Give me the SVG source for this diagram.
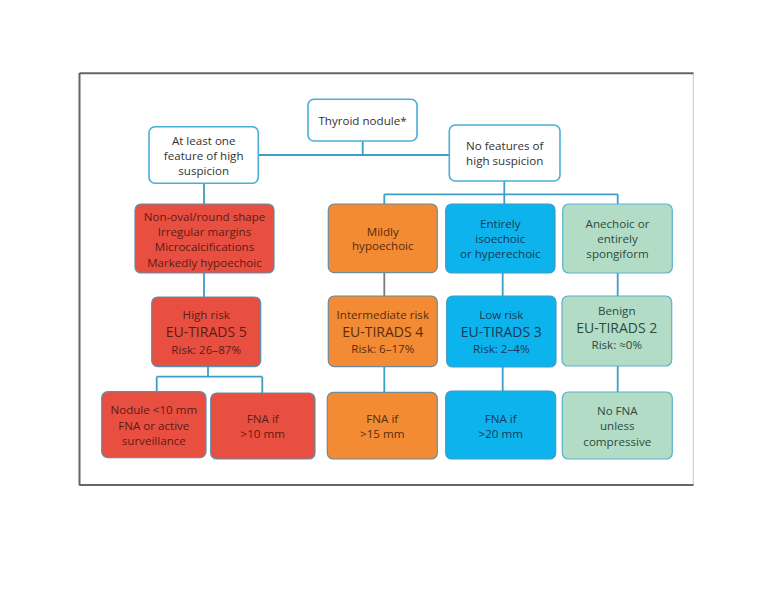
<svg xmlns="http://www.w3.org/2000/svg" width="768" height="594" viewBox="0 0 768 594">
<defs>
<style>
text{font-family:"Open Sans","Noto Sans","Liberation Sans",sans-serif;font-size:11.6px;text-anchor:middle;dominant-baseline:central}
.big{font-size:14px}
.hdr{fill:#fff;stroke:#4aaed6;stroke-width:1.6}
.red{fill:#e94f40;stroke:#5b8fae;stroke-width:1.2}
.org{fill:#f28b33;stroke:#6c8a98;stroke-width:1.2}
.blu{fill:#0db3ec;stroke:#3d9cc6;stroke-width:1.2}
.grn{fill:#b2dcc6;stroke:#5ab1cf;stroke-width:1.2}
.th{fill:#333}
.tr{fill:#5c1c14}
.to{fill:#5a2c0c}
.tb{fill:#173a5a}
.tg{fill:#2e4a3f}
.con{stroke:#3c9ec9;stroke-width:1.8;fill:none}
</style>
</defs>
<rect width="768" height="594" fill="#fff"/>
<g id="frame" fill="none">
<line x1="693.3" y1="73" x2="693.3" y2="485" stroke="#c8c8c8" stroke-width="1"/>
<line x1="79.5" y1="73.3" x2="693.5" y2="73.3" stroke="#666" stroke-width="2"/>
<line x1="79.5" y1="73" x2="79.5" y2="485.5" stroke="#666" stroke-width="2"/>
<line x1="79.5" y1="485" x2="693.5" y2="485" stroke="#666" stroke-width="2"/>
</g>
<g id="connectors">
<path class="con" d="M362.7 141V155M258.3 155H449.3"/>
<path class="con" d="M204 183.3V204M204 273V297"/>
<path class="con" d="M208 366.7V376.7M156.7 376.7H262.3M156.7 376.7V392M262.3 376.7V393"/>
<path class="con" d="M504.3 181V204M384.3 194.3H617.7M384.3 194.3V204M617.7 194.3V204"/>
<path d="M384.3 273V296" stroke="#7a7a7a" stroke-width="1.8"/>
<path class="con" d="M502.7 273V296M617.7 273V296"/>
<path class="con" d="M384.3 366.7V392.3M502.7 367V391M617.7 366V392"/>
</g>
<g id="n-thyroid">
<rect class="hdr" x="308" y="99.3" width="109" height="41.7" rx="6"/>
<text class="th" x="362.5" y="120">Thyroid nodule*</text>
</g>
<g id="n-high">
<rect class="hdr" x="149" y="126.7" width="109.3" height="56.6" rx="6"/>
<text class="th" x="203.7" y="140">At least one</text>
<text class="th" x="203.7" y="155">feature of high</text>
<text class="th" x="203.7" y="170">suspicion</text>
</g>
<g id="n-nohigh">
<rect class="hdr" x="449.3" y="125" width="110.7" height="56" rx="6"/>
<text class="th" x="504.7" y="145">No features of</text>
<text class="th" x="504.7" y="160">high suspicion</text>
</g>
<g id="n-features">
<rect class="red" x="135" y="204" width="139" height="69" rx="6"/>
<text class="tr" x="204.5" y="216">Non-oval/round shape</text>
<text class="tr" x="204.5" y="231.5">Irregular margins</text>
<text class="tr" x="204.5" y="246.5">Microcalcifications</text>
<text class="tr" x="204.5" y="262">Markedly hypoechoic</text>
</g>
<g id="n-tirads5">
<rect class="red" x="151.7" y="297" width="109" height="69.7" rx="6"/>
<text class="tr" x="206.2" y="314">High risk</text>
<text class="tr big" x="206.2" y="331.5">EU-TIRADS 5</text>
<text class="tr" x="206.2" y="349">Risk: 26–87%</text>
</g>
<g id="n-small">
<rect class="red" x="101.7" y="391.7" width="104.3" height="66" rx="6"/>
<text class="tr" x="153.8" y="409">Nodule &lt;10 mm</text>
<text class="tr" x="153.8" y="425">FNA or active</text>
<text class="tr" x="153.8" y="440.7">surveillance</text>
</g>
<g id="n-fna10">
<rect class="red" x="210.7" y="393" width="104.3" height="66" rx="6"/>
<text class="tr" x="262.8" y="418.3">FNA if</text>
<text class="tr" x="262.8" y="433.3">&gt;10 mm</text>
</g>
<g id="n-mild">
<rect class="org" x="328.3" y="204" width="109" height="68.7" rx="6"/>
<text class="to" x="382.8" y="231.7">Mildly</text>
<text class="to" x="382.8" y="245.7">hypoechoic</text>
</g>
<g id="n-iso">
<rect class="blu" x="445.7" y="204" width="109.3" height="69" rx="6"/>
<text class="tb" x="500.3" y="223.3">Entirely</text>
<text class="tb" x="500.3" y="238.3">isoechoic</text>
<text class="tb" x="500.3" y="253.3">or hyperechoic</text>
</g>
<g id="n-anechoic">
<rect class="grn" x="562.7" y="204" width="109.6" height="69" rx="6"/>
<text class="tg" x="617.5" y="223.3">Anechoic or</text>
<text class="tg" x="617.5" y="238.3">entirely</text>
<text class="tg" x="617.5" y="253.3">spongiform</text>
</g>
<g id="n-tirads4">
<rect class="org" x="328.3" y="296" width="109" height="70.7" rx="6"/>
<text class="to" x="382.8" y="314">Intermediate risk</text>
<text class="to big" x="382.8" y="331">EU-TIRADS 4</text>
<text class="to" x="382.8" y="348">Risk: 6–17%</text>
</g>
<g id="n-tirads3">
<rect class="blu" x="446.7" y="296" width="109.3" height="71" rx="6"/>
<text class="tb" x="501.3" y="314">Low risk</text>
<text class="tb big" x="501.3" y="331">EU-TIRADS 3</text>
<text class="tb" x="501.3" y="348">Risk: 2–4%</text>
</g>
<g id="n-tirads2">
<rect class="grn" x="562" y="296" width="109.7" height="70" rx="6"/>
<text class="tg" x="616.8" y="310">Benign</text>
<text class="tg big" x="616.8" y="327">EU-TIRADS 2</text>
<text class="tg" x="616.8" y="344.5">Risk: ≈0%</text>
</g>
<g id="n-fna15">
<rect class="org" x="327.3" y="392.3" width="110" height="66.7" rx="6"/>
<text class="to" x="382.3" y="418.3">FNA if</text>
<text class="to" x="382.3" y="433.3">&gt;15 mm</text>
</g>
<g id="n-fna20">
<rect class="blu" x="445.7" y="391" width="110" height="68" rx="6"/>
<text class="tb" x="500.7" y="418.3">FNA if</text>
<text class="tb" x="500.7" y="433.3">&gt;20 mm</text>
</g>
<g id="n-nofna">
<rect class="grn" x="562.3" y="392" width="110" height="67" rx="6"/>
<text class="tg" x="617.3" y="410">No FNA</text>
<text class="tg" x="617.3" y="425.7">unless</text>
<text class="tg" x="617.3" y="441">compressive</text>
</g>
</svg>
